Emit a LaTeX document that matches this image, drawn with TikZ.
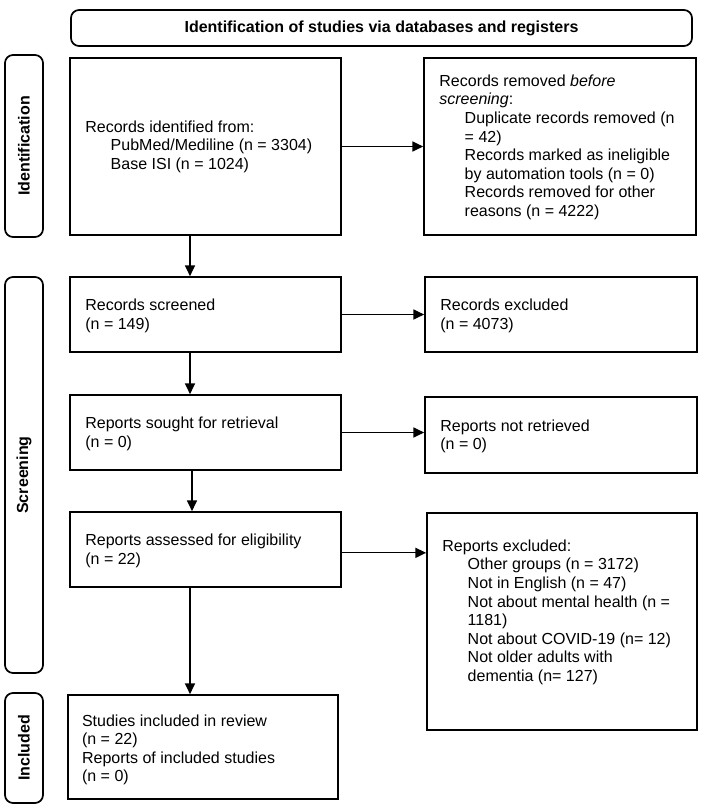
\documentclass[tikz,border=0pt]{standalone}
\usepackage{fontspec}
\setmainfont{Liberation Sans}
\usetikzlibrary{arrows.meta}
\newcommand{\myind}{\hspace*{19pt}}
\begin{document}
\begin{tikzpicture}[x=0.75pt,y=-0.75pt,
  fnt/.style={font=\fontsize{12}{13.9}\selectfont},
  sz/.style 2 args={minimum width=#1*0.75pt, minimum height=#2*0.75pt},
  box/.style={draw, line width=1.3pt, inner sep=0pt, fnt},
  lab/.style={draw, line width=1.3pt, rounded corners=6pt, inner sep=0pt, fnt, font=\fontsize{12}{13.9}\selectfont\bfseries},
  txt/.style={fnt, align=left, inner sep=0pt, anchor=west},
  arr/.style={line width=0.9pt, -{Triangle[length=8pt,width=7.5pt]}}
]
\useasboundingbox (0,0) rectangle (702,810);
\fill[white] (0,0) rectangle (702,810);

% header and side labels
\node[lab, sz={621}{36}] (head) at (381.5,28) {Identification of studies via databases and registers};
\node[lab, sz={182}{38}, rotate=90] (labI) at (24,146) {Identification};
\node[lab, sz={396}{38}, rotate=90] (labS) at (24,475) {Screening};
\node[lab, sz={110}{38}, rotate=90] (labC) at (24,748) {Included};

% boxes
\node[box, sz={271}{177}] (ident) at (205.5,146.5) {};
\node[box, sz={272}{177}] (removed) at (560,146.5) {};
\node[box, sz={271}{75}] (screened) at (205.5,314.5) {};
\node[box, sz={272}{75}] (excluded) at (561,314.5) {};
\node[box, sz={271}{75}] (sought) at (205.5,432.5) {};
\node[box, sz={272}{76}] (notret) at (561,435) {};
\node[box, sz={271}{75}] (assessed) at (205.5,549.5) {};
\node[box, sz={270}{217}] (repexcl) at (562,621.5) {};
\node[box, sz={270}{104}] (included) at (203,747) {};

% texts
\node[txt] (tident) at ([xshift=12pt]ident.west) {Records identified from:\\ \myind PubMed/Mediline (n = 3304)\\ \myind Base ISI (n = 1024)};
\node[txt] (tremoved) at ([xshift=12pt,yshift=-0.5pt]removed.west) {Records removed \textit{before}\\ \textit{screening}:\\ \myind Duplicate records removed (n\\ \myind = 42)\\ \myind Records marked as ineligible\\ \myind by automation tools (n = 0)\\ \myind Records removed for other\\ \myind reasons (n = 4222)};
\node[txt] (tscreened) at ([xshift=12pt,yshift=-1pt]screened.west) {Records screened\\(n = 149)};
\node[txt] (texcluded) at ([xshift=12pt,yshift=-1pt]excluded.west) {Records excluded\\(n = 4073)};
\node[txt] (tsought) at ([xshift=12pt,yshift=-1pt]sought.west) {Reports sought for retrieval\\(n = 0)};
\node[txt] (tnotret) at ([xshift=12pt,yshift=-1pt]notret.west) {Reports not retrieved\\(n = 0)};
\node[txt] (tassessed) at ([xshift=12pt,yshift=-1pt]assessed.west) {Reports assessed for eligibility\\(n = 22)};
\node[txt] (trepexcl) at ([xshift=12pt,yshift=7pt]repexcl.west) {Reports excluded:\\ \myind Other groups (n = 3172)\\ \myind Not in English (n = 47)\\ \myind Not about mental health (n =\\ \myind 1181)\\ \myind Not about COVID-19 (n= 12)\\ \myind Not older adults with\\ \myind dementia (n= 127)};
\node[txt] (tincluded) at ([xshift=11pt,yshift=-2pt]included.west) {Studies included in review\\(n = 22)\\Reports of included studies\\(n = 0)};

% connectors
\coordinate (colA) at (190,0);
\coordinate (colB) at (192,0);
\draw[arr] (ident.south -| colA) -- (screened.north -| colA);
\draw[arr] (screened.south -| colA) -- (sought.north -| colA);
\draw[arr] (sought.south -| colB) -- (assessed.north -| colB);
\draw[arr] (assessed.south -| colA) -- (included.north -| colA);
\draw[arr] (ident.east) -- (ident.east -| removed.west);
\draw[arr] (screened.east) -- (screened.east -| excluded.west);
\draw[arr] (sought.east) -- (sought.east -| notret.west);
\draw[arr] ([yshift=-2.5pt]assessed.east) -- ([yshift=-2.5pt]assessed.east -| repexcl.west);
\end{tikzpicture}
\end{document}
